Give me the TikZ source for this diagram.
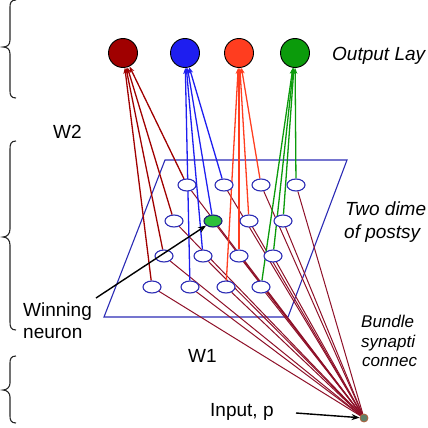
\documentclass[tikz,border=0pt]{standalone}
\usepackage{fontspec}
\setmainfont{Liberation Sans}
\usetikzlibrary{arrows.meta,backgrounds,shapes.geometric}
\definecolor{cdred}{HTML}{A00000}
\definecolor{cblue}{HTML}{1E1EF0}
\definecolor{corange}{HTML}{FF3D1F}
\definecolor{cgreen}{HTML}{0B9B0B}
\definecolor{wred}{HTML}{8E1028}
\definecolor{gblue}{HTML}{2B2BB5}
\definecolor{wingreen}{HTML}{2EC03A}
\definecolor{inpfill}{HTML}{5E8068}
\definecolor{inpdraw}{HTML}{B0603A}
\begin{document}
\begin{tikzpicture}[x=1pt,y=-1pt,
  outn/.style={circle,draw=black,line width=0.9pt,minimum size=29pt,inner sep=0pt},
  gridn/.style={ellipse,draw=gblue,fill=white,line width=1.1pt,minimum width=18pt,minimum height=12pt,inner sep=0pt},
  wone/.style={draw=wred,line width=1pt},
  wtwo/.style={line width=1.3pt,-{Stealth[length=6pt,width=4.5pt]}},
  ptr/.style={draw=black,line width=1.4pt,-{Stealth[length=8pt,width=6pt]}},
  lbl/.style={inner sep=0pt,anchor=base west,font=\fontsize{19}{22}\selectfont},
  ilbl/.style={inner sep=0pt,anchor=base west,font=\fontsize{19}{22}\selectfont\itshape},
  slbl/.style={inner sep=0pt,anchor=base west,font=\fontsize{17}{20}\selectfont\itshape},
  bracepath/.style={draw=black!85,line width=1.1pt},
  ]
\useasboundingbox (0,0) rectangle (428,428);
\clip (0,0) rectangle (428,428);

% output layer
\node[outn,fill=cdred] (o1) at (123,53) {};
\node[outn,fill=cblue] (o2) at (185,53) {};
\node[outn,fill=corange] (o3) at (239,53) {};
\node[outn,fill=cgreen] (o4) at (295,53) {};

% grid neurons
\node[gridn] (g11) at (187,185) {};
\node[gridn] (g12) at (224,185) {};
\node[gridn] (g13) at (261,185) {};
\node[gridn] (g14) at (296,185) {};
\node[gridn] (g21) at (174,221) {};
\node[gridn,fill=wingreen,draw=gblue!70!black] (g22) at (213,221) {};
\node[gridn] (g23) at (249,221) {};
\node[gridn] (g24) at (283,221) {};
\node[gridn] (g31) at (164,256) {};
\node[gridn] (g32) at (203,256) {};
\node[gridn] (g33) at (239,256) {};
\node[gridn] (g34) at (273,256) {};
\node[gridn] (g41) at (152,287) {};
\node[gridn] (g42) at (190,287) {};
\node[gridn] (g43) at (226,287) {};
\node[gridn] (g44) at (261,287) {};

% input
\node[circle,fill=inpfill,draw=inpdraw,line width=0.8pt,minimum size=8pt,inner sep=0pt] (inp) at (364,418) {};

\begin{scope}[on background layer]
  \coordinate (pa) at (165,160);
  \coordinate (pb) at (347,160);
  \coordinate (pc) at (288,317);
  \coordinate (pd) at (104,317);
  \draw[draw=gblue,line width=1.1pt] (pa) -- (pb) -- (pc) -- (pd) -- cycle;
  % W1 bundle
  \foreach \r in {1,2,3,4}{
    \foreach \c in {1,2,3,4}{
      \draw[wone] (inp) -- (g\r\c);
    }
  }
  % W2
  \foreach \r in {1,2,3,4}{
    \draw[wtwo,cdred] (g\r1) -- (o1);
    \draw[wtwo,cblue] (g\r2) -- (o2);
    \draw[wtwo,corange] (g\r3) -- (o3);
    \draw[wtwo,cgreen] (g\r4) -- (o4);
  }
\end{scope}

% pointers
\coordinate (wa) at (96,298);
\draw[ptr] (wa) -- (g22);
\coordinate (ia) at (296,413);
\draw[ptr] (ia) -- (inp);

% labels
\node[ilbl] (tout) at (332,60) {Output Lay};
\node[lbl] (tw2) at (53,138) {W2};
\node[lbl] (tw1) at (188,362) {W1};
\node[ilbl] (ttwo) at (345,215) {Two dime};
\node[ilbl] (tpost) at (344,238) {of postsy};
\node[lbl] (twin) at (23,316) {Winning};
\node[lbl] (tneu) at (23,338) {neuron};
\node[slbl] (tbun) at (361,327) {Bundle};
\node[slbl] (tsyn) at (361,347) {synapti};
\node[slbl] (tcon) at (362,366) {connec};
\node[lbl] (tinp) at (210,416) {Input, p};

% braces
\draw[bracepath] (16,0) .. controls (11,0) and (10,3) .. (10,7) -- (10,40)
  .. controls (10,45) and (7,47) .. (3,47) .. controls (7,47) and (10,49) .. (10,54)
  -- (10,91) .. controls (10,95) and (11,98) .. (16,98);
\draw[bracepath] (16,141) .. controls (11,141) and (10,144) .. (10,149) -- (10,229)
  .. controls (10,234) and (7,237) .. (3,237) .. controls (7,237) and (10,240) .. (10,245)
  -- (10,322) .. controls (10,327) and (11,330) .. (16,330);
\draw[bracepath] (16,356) .. controls (11,356) and (10,359) .. (10,363) -- (10,383)
  .. controls (10,387) and (7,390) .. (3,390) .. controls (7,390) and (10,393) .. (10,397)
  -- (10,416) .. controls (10,420) and (11,423) .. (16,423);
\end{tikzpicture}
\end{document}
